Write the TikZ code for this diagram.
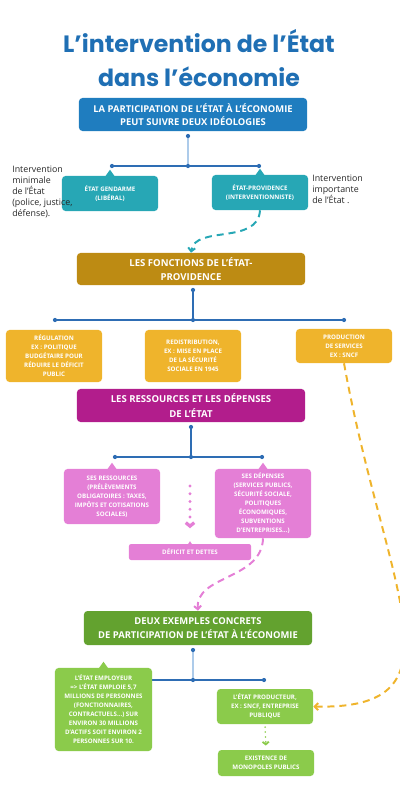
\documentclass[tikz,border=0pt]{standalone}
\usepackage{fontspec}
\setmainfont{Open Sans}
\newfontfamily\titlefont{Poppins}
\usetikzlibrary{arrows.meta,calc}

\definecolor{titleblue}{HTML}{1F6FB4}
\definecolor{ideoblue}{HTML}{1F7DBF}
\definecolor{tealbox}{HTML}{27A7B5}
\definecolor{mustard}{HTML}{BD8B13}
\definecolor{yellowbox}{HTML}{EFB42C}
\definecolor{magentabox}{HTML}{B21D8C}
\definecolor{pinkbox}{HTML}{E47FD6}
\definecolor{darkgreen}{HTML}{63A22F}
\definecolor{lightgreen}{HTML}{8BCB4B}
\definecolor{treeblue}{HTML}{2E6DB4}
\definecolor{lightline}{HTML}{ADCBEA}

% little tip on top of a box
\newcommand{\notch}[2]{\fill[#2] ($(#1.north)+(-5,1)$) -- ($(#1.north)+(0,-6)$) -- ($(#1.north)+(5,1)$) -- cycle;}

\begin{document}
\begin{tikzpicture}[x=0.025cm,y=-0.025cm,
  box/.style={rounded corners=2.5pt,text=white,align=center,inner sep=0pt},
  head/.style={box,minimum width=5.7cm,font=\fontsize{6.8}{10.5}\selectfont\bfseries},
  small/.style={box,minimum width=2.4cm,font=\fontsize{4.4}{6.4}\selectfont\bfseries},
  note/.style={align=left,anchor=north west,inner sep=0pt,text=black!85,font=\fontsize{6.3}{7.8}\selectfont},
  branch/.style={treeblue,line width=0.8pt},
  link/.style={line width=1.4pt,dash pattern=on 5pt off 3.5pt,-{Straight Barb[length=2.5pt,width=5pt]}}]
  \useasboundingbox (0,0) rectangle (400,800);

  \node[font=\titlefont\bfseries\fontsize{16.8}{24}\selectfont,text=titleblue,align=center] (title) at (199,58)
    {L’intervention de l’État\\dans l’économie};

  % trees
  \foreach \t/\x/\y/\l/\r/\c/\w in {a/188/136/112/259/lightline/1.5pt, b/193/290/55/344/treeblue/0.9pt,
                                    c/191/427/115/262/treeblue/0.9pt, d/193/650/103/264/lightline/1.5pt} {
    \coordinate (\t top) at (\x,\y);
    \coordinate (\t mid) at (\x,\y+30);
    \coordinate (\t left) at (\l,\y+30);
    \coordinate (\t right) at (\r,\y+30);
    \draw[\c,line width=\w] (\t top) -- (\t mid);
    \draw[branch] (\t left) -- (\t right);
    \foreach \p in {top,mid,left,right} \fill[treeblue] (\t \p) circle (1.5pt);
  }

  \node[head,fill=ideoblue,minimum height=0.825cm,font=\fontsize{6.7}{9.4}\selectfont\bfseries] (ideo) at (193,114.5)
    {LA PARTICIPATION DE L’ÉTAT À L’ÉCONOMIE\\PEUT SUIVRE DEUX IDÉOLOGIES};

  \node[small,fill=tealbox,minimum height=0.875cm] (gend) at (110,193.5) {ÉTAT GENDARME\\(LIBÉRAL)};
  \node[small,fill=tealbox,minimum height=0.875cm] (prov) at (260,192.5) {ÉTAT-PROVIDENCE\\(INTERVENTIONNISTE)};
  \notch{gend}{tealbox} \notch{prov}{tealbox}
  \node[note] (minnote) at (12,166) {Intervention\\minimale\\de l’État\\(police, justice,\\défense).};
  \node[note] (impnote) at (312,175) {Intervention\\importante\\de l’État .};

  \node[head,fill=mustard,minimum height=0.8cm] (fonct) at (191,269) {LES FONCTIONS DE L’ÉTAT-\\PROVIDENCE};
  \draw[link,tealbox] (prov.south) .. controls (258,245) and (195,225) .. (fonct.north);

  \node[small,fill=yellowbox,minimum height=1.3cm] (regul) at (54,356)
    {RÉGULATION\\EX : POLITIQUE\\BUDGÉTAIRE POUR\\RÉDUIRE LE DÉFICIT\\PUBLIC};
  \node[small,fill=yellowbox,minimum height=1.3cm] (redis) at (193,356)
    {REDISTRIBUTION,\\EX : MISE EN PLACE\\DE LA SÉCURITÉ\\SOCIALE EN 1945};
  \node[small,fill=yellowbox,minimum height=0.85cm] (prod) at (344,346) {PRODUCTION\\DE SERVICES\\EX : SNCF};

  \node[head,fill=magentabox,minimum height=0.825cm] (ress) at (191,405.5) {LES RESSOURCES ET LES DÉPENSES\\DE L’ÉTAT};

  \node[small,fill=pinkbox,minimum height=1.375cm] (sesress) at (112,496.5)
    {SES RESSOURCES\\(PRÉLÈVEMENTS\\OBLIGATOIRES : TAXES,\\IMPÔTS ET COTISATIONS\\SOCIALES)};
  \node[small,fill=pinkbox,minimum height=1.725cm] (sesdep) at (263,503.5)
    {SES DÉPENSES\\(SERVICES PUBLICS,\\SÉCURITÉ SOCIALE,\\POLITIQUES\\ÉCONOMIQUES,\\SUBVENTIONS\\D’ENTREPRISES…)};
  \notch{sesress}{pinkbox} \notch{sesdep}{pinkbox}

  \node[small,fill=pinkbox,minimum width=3.05cm,minimum height=0.4cm,rounded corners=1.5pt] (deficit) at (190,552) {DÉFICIT ET DETTES};
  \fill[pinkbox] ($(deficit.north)+(-2,0.5)$) -- ($(deficit.north)+(0,-2.5)$) -- ($(deficit.north)+(2,0.5)$) -- cycle;
  \coordinate (dotstart) at (190,486);
  \draw[pinkbox,line width=2.3pt,line cap=round,dash pattern=on 0pt off 5.5pt,shorten >=11pt,
        -{Straight Barb[length=2.5pt,width=6pt]}] (dotstart) -- (deficit.north);

  \node[head,fill=darkgreen,minimum height=0.85cm,font=\fontsize{6.7}{10.3}\selectfont\bfseries] (deux) at (198,628)
    {DEUX EXEMPLES CONCRETS\\DE PARTICIPATION DE L’ÉTAT À L’ÉCONOMIE};
  \draw[link,pinkbox] (sesdep.south) .. controls (262,580) and (195,575) .. (deux.north);

  \node[small,fill=lightgreen,minimum width=2.425cm,minimum height=2.075cm] (employ) at (103.5,709.5)
    {L’ÉTAT EMPLOYEUR\\=> L’ÉTAT EMPLOIE 5,7\\MILLIONS DE PERSONNES\\(FONCTIONNAIRES,\\CONTRACTUELS…) SUR\\ENVIRON 30 MILLIONS\\D’ACTIFS SOIT ENVIRON 2\\PERSONNES SUR 10.};
  \notch{employ}{lightgreen}
  \node[small,fill=lightgreen,minimum height=0.875cm] (produc) at (265,706.5)
    {L’ÉTAT PRODUCTEUR,\\EX : SNCF, ENTREPRISE\\PUBLIQUE};
  \node[small,fill=lightgreen,minimum height=0.65cm] (monop) at (266,763) {EXISTENCE DE\\MONOPOLES PUBLICS};
  \draw[lightgreen,line width=1.3pt,line cap=round,dash pattern=on 0pt off 3.5pt,shorten <=2pt,shorten >=3pt,
        -{Straight Barb[length=1.8pt,width=4.5pt]}] (produc.south) -- (monop.north);

  \draw[link,yellowbox] (prod.south) .. controls (385,590) and (470,710) .. (produc.east);
\end{tikzpicture}
\end{document}
